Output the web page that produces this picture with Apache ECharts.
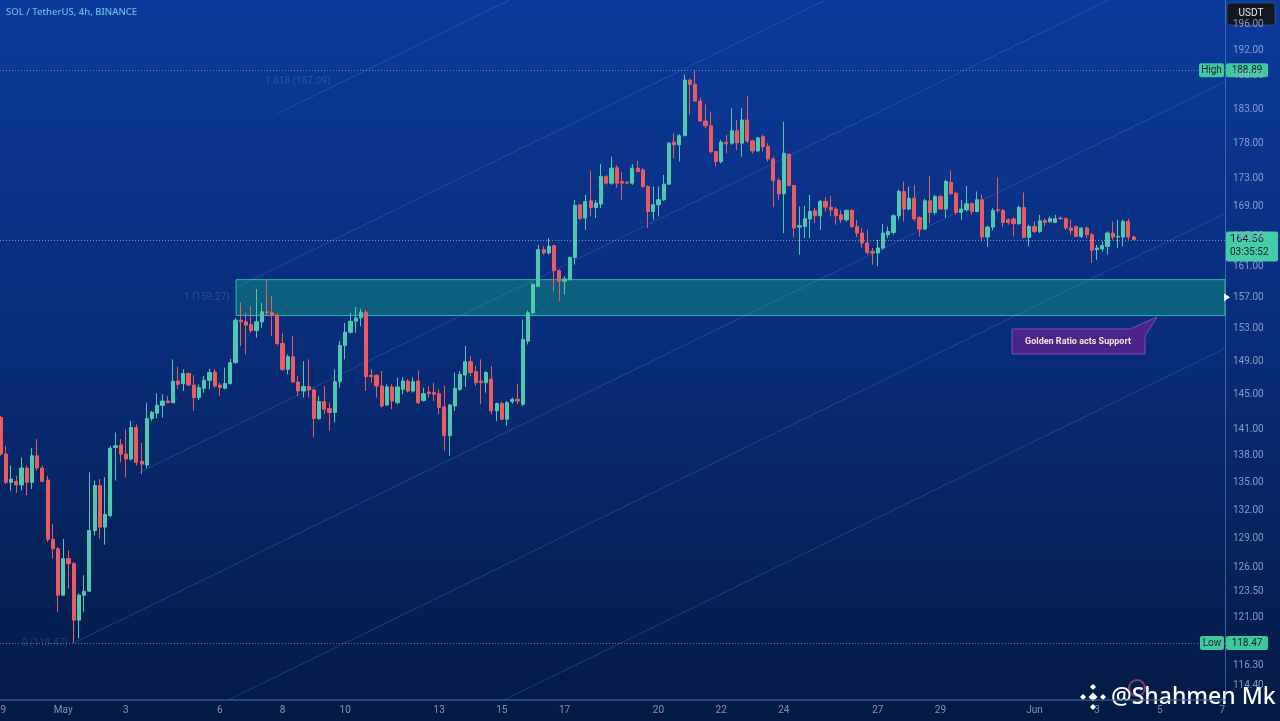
<!DOCTYPE html>
<html>
<head>
<meta charset="utf-8">
<script src="https://cdn.jsdelivr.net/npm/echarts@6/dist/echarts.min.js"></script>
<style>
  html, body { margin: 0; padding: 0; background: #04173d; }
  #chart { width: 1280px; height: 721px; }
</style>
</head>
<body>
<div id="chart"></div>
<script>
// SOL / USDT, 4h candles from Apr 29 00:00 to Jun 4 04:00
var opens = [
  142.36,138.18,135.03,135.14,134.75,136.62,135.03,137.99,136.62,135.29,
  128.90,127.93,123.18,126.90,126.38,120.70,123.18,123.58,129.84,134.68,
  130.20,131.43,138.93,139.22,138.18,137.62,141.20,137.36,136.95,142.24,
  142.85,143.78,144.28,144.09,146.65,146.34,147.54,146.17,144.68,145.78,
  146.73,147.73,146.17,145.78,146.34,148.85,154.09,153.89,153.55,152.81,
  153.89,155.15,155.02,154.73,151.20,148.05,149.58,146.53,145.46,145.98,
  145.58,142.24,144.21,143.40,142.94,146.57,150.96,152.60,153.96,154.39,
  155.10,147.33,147.33,146.05,143.82,145.94,144.09,145.66,146.65,145.46,
  146.65,144.36,145.34,145.27,145.15,143.59,140.25,143.70,145.66,147.37,
  148.97,147.77,146.65,146.45,146.85,143.12,143.98,142.16,144.21,144.48,
  143.90,151.49,155.02,158.41,163.20,162.76,163.73,160.44,159.05,159.27,
  162.18,169.28,167.46,169.83,168.91,169.38,173.21,172.29,174.48,172.52,
  172.43,172.29,174.40,174.16,171.81,168.36,169.28,169.97,172.15,178.14,
  177.74,179.08,187.37,186.72,184.20,181.23,180.54,176.77,175.34,178.14,
  177.99,179.80,177.99,181.38,178.31,176.87,178.94,177.49,175.72,172.65,
  170.80,176.39,171.95,166.23,166.32,167.33,168.45,167.77,169.74,168.96,
  168.69,167.91,167.23,168.50,166.32,165.43,164.09,162.98,162.76,163.43,
  165.20,165.51,167.77,171.12,168.69,170.20,167.54,165.96,169.83,168.23,
  170.43,168.69,172.38,170.89,168.23,168.59,169.42,168.36,169.97,164.89,
  166.23,168.59,168.50,167.23,167.33,166.69,168.91,164.84,166.32,165.65,
  167.14,167.00,166.86,167.46,167.37,166.10,166.32,164.98,166.10,165.20,
  163.20,163.29,163.64,165.43,164.89,164.89,167.00,164.89
];
var closes = [
  138.18,135.03,135.40,134.75,136.62,135.03,137.99,136.62,135.14,128.90,
  127.93,123.18,126.90,126.38,120.70,123.18,123.58,129.84,134.68,130.20,
  131.54,138.85,139.11,138.18,137.62,141.20,137.25,137.06,142.24,142.94,
  143.78,144.28,144.09,146.61,146.26,147.54,146.17,144.68,145.86,146.73,
  147.66,146.05,145.86,146.34,148.85,154.09,153.89,153.47,152.81,153.89,
  155.15,155.02,154.73,151.20,148.05,149.58,146.53,145.46,145.98,145.58,
  142.24,144.21,143.32,142.94,146.57,150.96,152.60,153.96,154.39,155.10,
  147.17,147.17,146.05,143.70,145.94,144.28,145.94,146.65,145.46,146.57,
  144.09,145.15,145.15,145.07,143.52,140.25,143.82,145.78,147.45,148.97,
  147.66,146.45,146.45,147.66,143.12,143.98,142.16,144.09,144.48,144.28,
  151.70,155.02,158.63,163.20,162.76,163.64,160.44,159.05,159.36,162.18,
  169.18,167.37,169.74,168.91,169.51,173.21,172.29,174.40,172.29,172.29,
  172.29,174.40,173.92,171.81,168.36,169.28,169.97,172.15,177.99,177.74,
  179.08,187.37,186.72,184.20,181.23,180.54,176.77,175.34,178.14,177.89,
  179.80,178.04,181.38,178.31,176.87,178.75,177.49,175.72,172.65,170.80,
  176.53,171.95,166.10,166.41,167.37,168.36,167.77,169.74,168.96,168.59,
  167.77,167.23,168.50,166.32,165.43,164.09,162.84,162.76,163.43,165.43,
  165.65,167.77,171.12,168.69,170.20,167.33,165.96,169.83,168.23,170.43,
  168.69,172.52,170.80,168.23,168.69,169.42,168.36,169.97,164.89,166.23,
  168.50,168.50,166.86,166.86,166.69,168.91,164.84,166.32,165.65,167.09,
  166.86,167.37,167.37,167.37,166.10,165.78,164.98,166.10,165.20,163.11,
  163.43,163.73,165.43,164.89,164.98,167.00,164.89,164.56
];
var lows = [
  137.99,134.85,134.13,133.88,134.13,133.59,134.31,136.32,135.03,128.63,
  126.90,121.53,123.12,123.85,118.47,118.90,121.53,123.52,129.32,128.97,
  128.35,131.26,135.22,137.25,135.59,137.44,136.88,135.95,136.59,141.96,
  142.24,142.36,144.01,144.01,145.66,145.46,146.05,143.12,144.40,145.27,
  145.66,145.86,144.87,145.66,146.26,148.77,150.87,149.86,152.52,151.90,
  153.14,154.60,152.10,150.96,147.85,147.45,146.45,144.87,144.68,144.68,
  140.06,142.08,142.74,140.82,141.77,145.86,149.25,152.44,152.52,153.34,
  145.46,146.45,144.68,143.52,143.70,143.32,143.90,145.07,145.27,145.27,
  143.90,144.21,144.68,144.28,142.74,138.55,137.99,143.12,145.46,145.94,
  147.25,146.05,143.90,145.27,142.74,141.96,142.04,141.39,143.98,143.90,
  143.70,151.08,154.81,158.28,162.54,162.54,157.76,156.49,157.34,159.14,
  161.22,167.23,165.87,167.68,167.46,168.82,172.10,172.05,171.67,169.97,
  172.15,172.05,173.80,171.67,166.10,167.23,167.68,169.83,172.05,175.82,
  175.34,178.99,182.12,184.10,181.13,180.14,176.53,174.63,175.10,176.53,
  177.74,177.01,176.05,177.99,176.53,176.77,176.77,175.34,168.96,169.97,
  165.43,171.81,164.87,162.54,164.76,164.76,166.78,165.87,168.36,167.68,
  166.55,166.78,167.00,166.10,164.89,163.43,162.54,161.22,161.00,163.20,
  164.76,165.20,167.23,167.00,168.50,167.00,164.98,165.87,166.78,167.91,
  168.59,167.46,170.66,167.91,167.23,168.36,167.91,168.23,164.31,163.56,
  165.78,168.14,166.23,166.55,164.98,166.55,164.76,163.64,165.43,165.43,
  166.32,166.78,166.78,167.23,165.87,165.20,164.89,164.76,164.76,161.44,
  161.88,162.98,162.54,164.53,163.43,163.64,164.53,164.50
];
var highs = [
  142.54,139.11,136.88,135.77,137.81,136.88,138.85,139.87,136.88,135.77,
  130.55,128.11,128.97,127.76,126.56,123.35,125.19,136.14,135.22,135.40,
  135.59,139.11,140.63,139.87,141.01,141.96,141.58,139.42,144.09,143.12,
  145.19,145.07,144.87,149.25,148.37,148.05,147.66,147.33,146.26,147.25,
  148.13,148.05,146.45,148.25,149.33,154.39,156.36,155.02,155.86,158.07,
  156.28,159.27,157.12,155.02,152.52,149.86,152.10,147.25,149.05,149.25,
  145.74,144.87,146.05,144.09,148.05,151.49,153.76,155.02,155.78,155.53,
  155.35,148.05,147.45,147.85,146.26,146.26,147.05,147.05,146.85,147.05,
  147.93,145.86,146.05,146.45,145.66,146.05,143.90,147.66,147.85,150.87,
  149.65,148.45,149.25,147.85,148.45,144.09,144.21,144.28,144.68,146.26,
  154.18,155.30,158.85,163.86,163.64,164.76,163.86,160.60,159.70,162.31,
  169.97,169.38,170.66,174.02,169.97,174.97,173.45,176.05,174.87,173.84,
  172.52,174.97,175.44,174.40,172.00,171.81,171.81,173.45,178.14,179.43,
  179.29,188.23,187.63,188.89,184.69,183.71,182.61,176.87,178.46,179.19,
  183.12,181.38,183.12,184.99,178.46,178.90,179.19,177.99,176.05,173.00,
  181.13,176.53,172.05,169.05,169.14,170.66,168.82,169.97,170.34,170.52,
  168.96,168.50,168.59,168.69,167.23,166.10,165.87,163.43,164.53,166.69,
  166.32,168.00,171.35,172.52,171.81,172.05,167.68,170.11,173.31,170.66,
  170.66,172.75,174.06,171.12,169.97,171.86,169.60,171.12,170.66,166.41,
  168.82,173.13,168.69,167.46,167.59,169.14,170.98,166.55,167.00,167.91,
  167.41,167.68,167.91,167.68,167.59,167.23,166.41,166.23,166.32,165.43,
  163.86,164.31,165.65,167.00,167.23,167.23,167.33,165.07
];

// axis tick labels
var dayTicks = ['04-29','05-01','05-03','05-06','05-08','05-10','05-13','05-15','05-17',
  '05-20','05-22','05-24','05-27','05-29','06-01','06-03','06-05','06-07'];
var priceTicks = [114.4,116.3,121,123.5,126,129,132,135,138,141,145,149,153,157,161,165,169,173,178,183,188,192,196];
var monthNames = ['Jan','Feb','Mar','Apr','May','Jun','Jul'];

// levels and drawings
var highPrice = 188.89, lowPrice = 118.47, lastPrice = 164.56;
var zoneTop = 159.27, zoneBottom = 154.68;
// channel lines: [start slot, start price, end slot, end price]
var channelLines = [
  [53.2, 182.4, 97.5, 200],
  [44.6, 158.1, 158, 200],
  [26.4, 136.07, 212.2, 200],
  [14, 118.47, 234.5, 187.1],
  [43.6, 113.1, 234.5, 168.1],
  [96.4, 113.1, 234.5, 150.6]
];
var priceMin = 113.1, priceMax = 200;
var slotCount = 235;

// time slots (4h each)
var slots = [];
var t0 = Date.UTC(2024, 3, 29);
for (var i = 0; i < slotCount; i++) {
  var d = new Date(t0 + i * 4 * 3600 * 1000);
  var mm = ('0' + (d.getUTCMonth() + 1)).slice(-2);
  var dd = ('0' + d.getUTCDate()).slice(-2);
  var hh = ('0' + d.getUTCHours()).slice(-2);
  slots.push(mm + '-' + dd + ' ' + hh + ':00');
}

var L = Math.log;
var candles = opens.map(function (o, i) {
  return [L(o), L(closes[i]), L(lows[i]), L(highs[i])];
});

var upColor = '#4fc9ad', downColor = '#ec5b5f';
var fontAxis = 'Roboto, "Noto Sans", sans-serif';

var lineSeries = channelLines.map(function (c) {
  return {
    type: 'line',
    xAxisIndex: 1,
    yAxisIndex: 0,
    silent: true,
    symbol: 'none',
    z: 1,
    lineStyle: { color: 'rgba(95,155,230,0.26)', width: 1 },
    data: [[c[0], L(c[1])], [c[2], L(c[3])]]
  };
});

// golden zone box, drawn over the candles
lineSeries.push({
  type: 'line',
  xAxisIndex: 1,
  yAxisIndex: 0,
  silent: true,
  symbol: 'none',
  z: 4,
  data: [],
  markArea: {
    silent: true,
    itemStyle: { color: 'rgba(20,170,125,0.40)', borderColor: 'rgba(45,195,175,0.9)', borderWidth: 1 },
    data: [[{ coord: [45.1, L(zoneTop)] }, { coord: [234.5, L(zoneBottom)] }]]
  }
});

var chart = echarts.init(document.getElementById('chart'));

chart.setOption({
  animation: false,
  backgroundColor: {
    type: 'linear', x: 0, y: 0, x2: 0, y2: 1,
    colorStops: [
      { offset: 0, color: '#0c3a9c' },
      { offset: 0.5, color: '#082c77' },
      { offset: 1, color: '#031a43' }
    ]
  },
  grid: { left: -2, right: 55, top: 0, bottom: 21, containLabel: false, outerBoundsMode: 'none' },
  xAxis: [
    {
      type: 'category',
      data: slots,
      boundaryGap: true,
      axisLine: { show: true, lineStyle: { color: 'rgba(60,100,160,0.8)', width: 1.5 } },
      axisTick: { show: false },
      splitLine: { show: false },
      axisLabel: {
        margin: 5,
        fontSize: 10,
        fontFamily: fontAxis,
        color: 'rgba(135,160,205,0.9)',
        interval: function (index, value) {
          return value.slice(6) === '00:00' && dayTicks.indexOf(value.slice(0, 5)) >= 0;
        },
        formatter: function (value) {
          var m = +value.slice(0, 2), dd = +value.slice(3, 5);
          return dd === 1 ? monthNames[m - 1] : String(dd);
        }
      }
    },
    { type: 'value', min: -0.5, max: slotCount - 0.5, show: false }
  ],
  yAxis: {
    type: 'value',
    position: 'right',
    scale: true,
    min: L(priceMin),
    max: L(priceMax),
    axisLine: { show: true, onZero: false, lineStyle: { color: 'rgba(90,140,210,0.6)' } },
    axisTick: { show: false },
    splitLine: { show: false },
    axisLabel: {
      margin: 8,
      fontSize: 10,
      fontFamily: fontAxis,
      color: 'rgba(150,175,215,0.85)',
      customValues: priceTicks.map(L),
      formatter: function (v) { return Math.exp(v).toFixed(2); }
    }
  },
  series: [{
    type: 'candlestick',
    z: 3,
    barWidth: '70%',
    itemStyle: {
      color: upColor, color0: downColor,
      borderColor: upColor, borderColor0: downColor, borderWidth: 1
    },
    data: candles
  }].concat(lineSeries)
});

// overlay lines and tags placed from the axis scale
function py(p) { return chart.convertToPixel({ yAxisIndex: 0 }, L(p)); }
var tagFill = '#3fc89a', tagText = '#0b2236';
var yH = py(highPrice), yL = py(lowPrice), yC = py(lastPrice), yZ = py(157);

function tag(x, y, w, txt, fill) {
  return {
    type: 'group', z: 100, children: [
      { type: 'rect', shape: { x: x, y: y - 7, width: w, height: 14, r: 2 }, style: { fill: fill } },
      { type: 'text', style: { x: x + w / 2, y: y, text: txt, fill: tagText, font: '10px ' + fontAxis, align: 'center', verticalAlign: 'middle' } }
    ]
  };
}

function level(y, color) {
  return { type: 'line', z: 6, silent: true, shape: { x1: 0, y1: Math.round(y) + 0.5, x2: 1225, y2: Math.round(y) + 0.5 },
    style: { stroke: color, lineWidth: 1, lineDash: [1, 2] } };
}

function diamond(cx, cy, r) {
  return { type: 'polygon', shape: { points: [[cx, cy - r], [cx + r, cy], [cx, cy + r], [cx - r, cy]] }, style: { fill: '#ffffff' } };
}

chart.setOption({
  graphic: [
    level(yH, 'rgba(170,195,235,0.55)'),
    level(yL, 'rgba(170,195,235,0.55)'),
    level(yC, 'rgba(190,215,240,0.6)'),
    { type: 'text', z: 100, style: { x: 6, y: 12, text: 'SOL / TetherUS, 4h, BINANCE', fill: '#67bde0', font: '500 9.5px "Noto Sans", sans-serif', verticalAlign: 'middle' } },
    // faint fib level texts
    { type: 'text', z: 5, style: { x: 265, y: py(187.09), text: '1.618 (187.09)', fill: 'rgba(95,145,225,0.33)', font: '10px ' + fontAxis, verticalAlign: 'middle' } },
    { type: 'text', z: 5, style: { x: 184, y: yZ, text: '1 (159.27)', fill: 'rgba(95,145,225,0.33)', font: '10px ' + fontAxis, verticalAlign: 'middle' } },
    { type: 'text', z: 5, style: { x: 22, y: yL, text: '0 (118.47)', fill: 'rgba(95,145,225,0.28)', font: '10px ' + fontAxis, verticalAlign: 'middle' } },
    // USDT unit box
    { type: 'group', z: 100, children: [
      { type: 'rect', shape: { x: 1227, y: 3, width: 48, height: 22, r: 3 }, style: { fill: '#131722', stroke: 'rgba(255,255,255,0.15)' } },
      { type: 'text', style: { x: 1251, y: 13.5, text: 'USDT', fill: '#e8ecf3', font: '10px ' + fontAxis, align: 'center', verticalAlign: 'middle' } }
    ] },
    tag(1199, yH, 25, 'High', tagFill),
    tag(1226, yH, 42, highPrice.toFixed(2), tagFill),
    tag(1200, yL, 24, 'Low', tagFill),
    tag(1226, yL, 42, lowPrice.toFixed(2), tagFill),
    // last price box
    { type: 'group', z: 100, children: [
      { type: 'rect', shape: { x: 1226, y: yC - 8, width: 52, height: 30, r: 2 }, style: { fill: '#45cda5' } },
      { type: 'text', style: { x: 1230, y: yC, text: lastPrice.toFixed(2), fill: tagText, font: '11px ' + fontAxis, verticalAlign: 'middle' } },
      { type: 'text', style: { x: 1230, y: yC + 13, text: '03:35:52', fill: tagText, font: '10px ' + fontAxis, verticalAlign: 'middle' } }
    ] },
    { type: 'polygon', z: 100, shape: { points: [[1224, yZ - 4], [1230, yZ], [1224, yZ + 4]] }, style: { fill: '#ffffff' } },
    // callout
    { type: 'group', z: 100, children: [
      { type: 'polygon', shape: { points: [[1012, 329], [1130, 329], [1157, 317], [1145, 336], [1145, 354], [1012, 354]] },
        style: { fill: 'rgba(78,36,138,0.96)', stroke: 'rgba(125,85,195,0.9)', lineWidth: 1 } },
      { type: 'text', style: { x: 1078, y: 342, text: 'Golden Ratio acts Support', fill: '#f2e4d6', font: 'bold 9px Roboto, sans-serif', align: 'center', verticalAlign: 'middle' } }
    ] },
    // watermark
    { type: 'group', z: 110, children: [
      diamond(1093, 697, 4.5),
      diamond(1093, 687, 3),
      diamond(1093, 707, 3),
      diamond(1083, 697, 3),
      diamond(1103, 697, 3),
      { type: 'circle', shape: { cx: 1137, cy: 688, r: 8 }, style: { fill: 'none', stroke: 'rgba(205,70,150,0.65)', lineWidth: 2 } },
      { type: 'text', style: { x: 1111, y: 697, text: '@Shahmen Mk', fill: '#ffffff', font: '500 23px "Noto Sans", sans-serif', verticalAlign: 'middle' } }
    ] }
  ]
});
</script>
</body>
</html>
